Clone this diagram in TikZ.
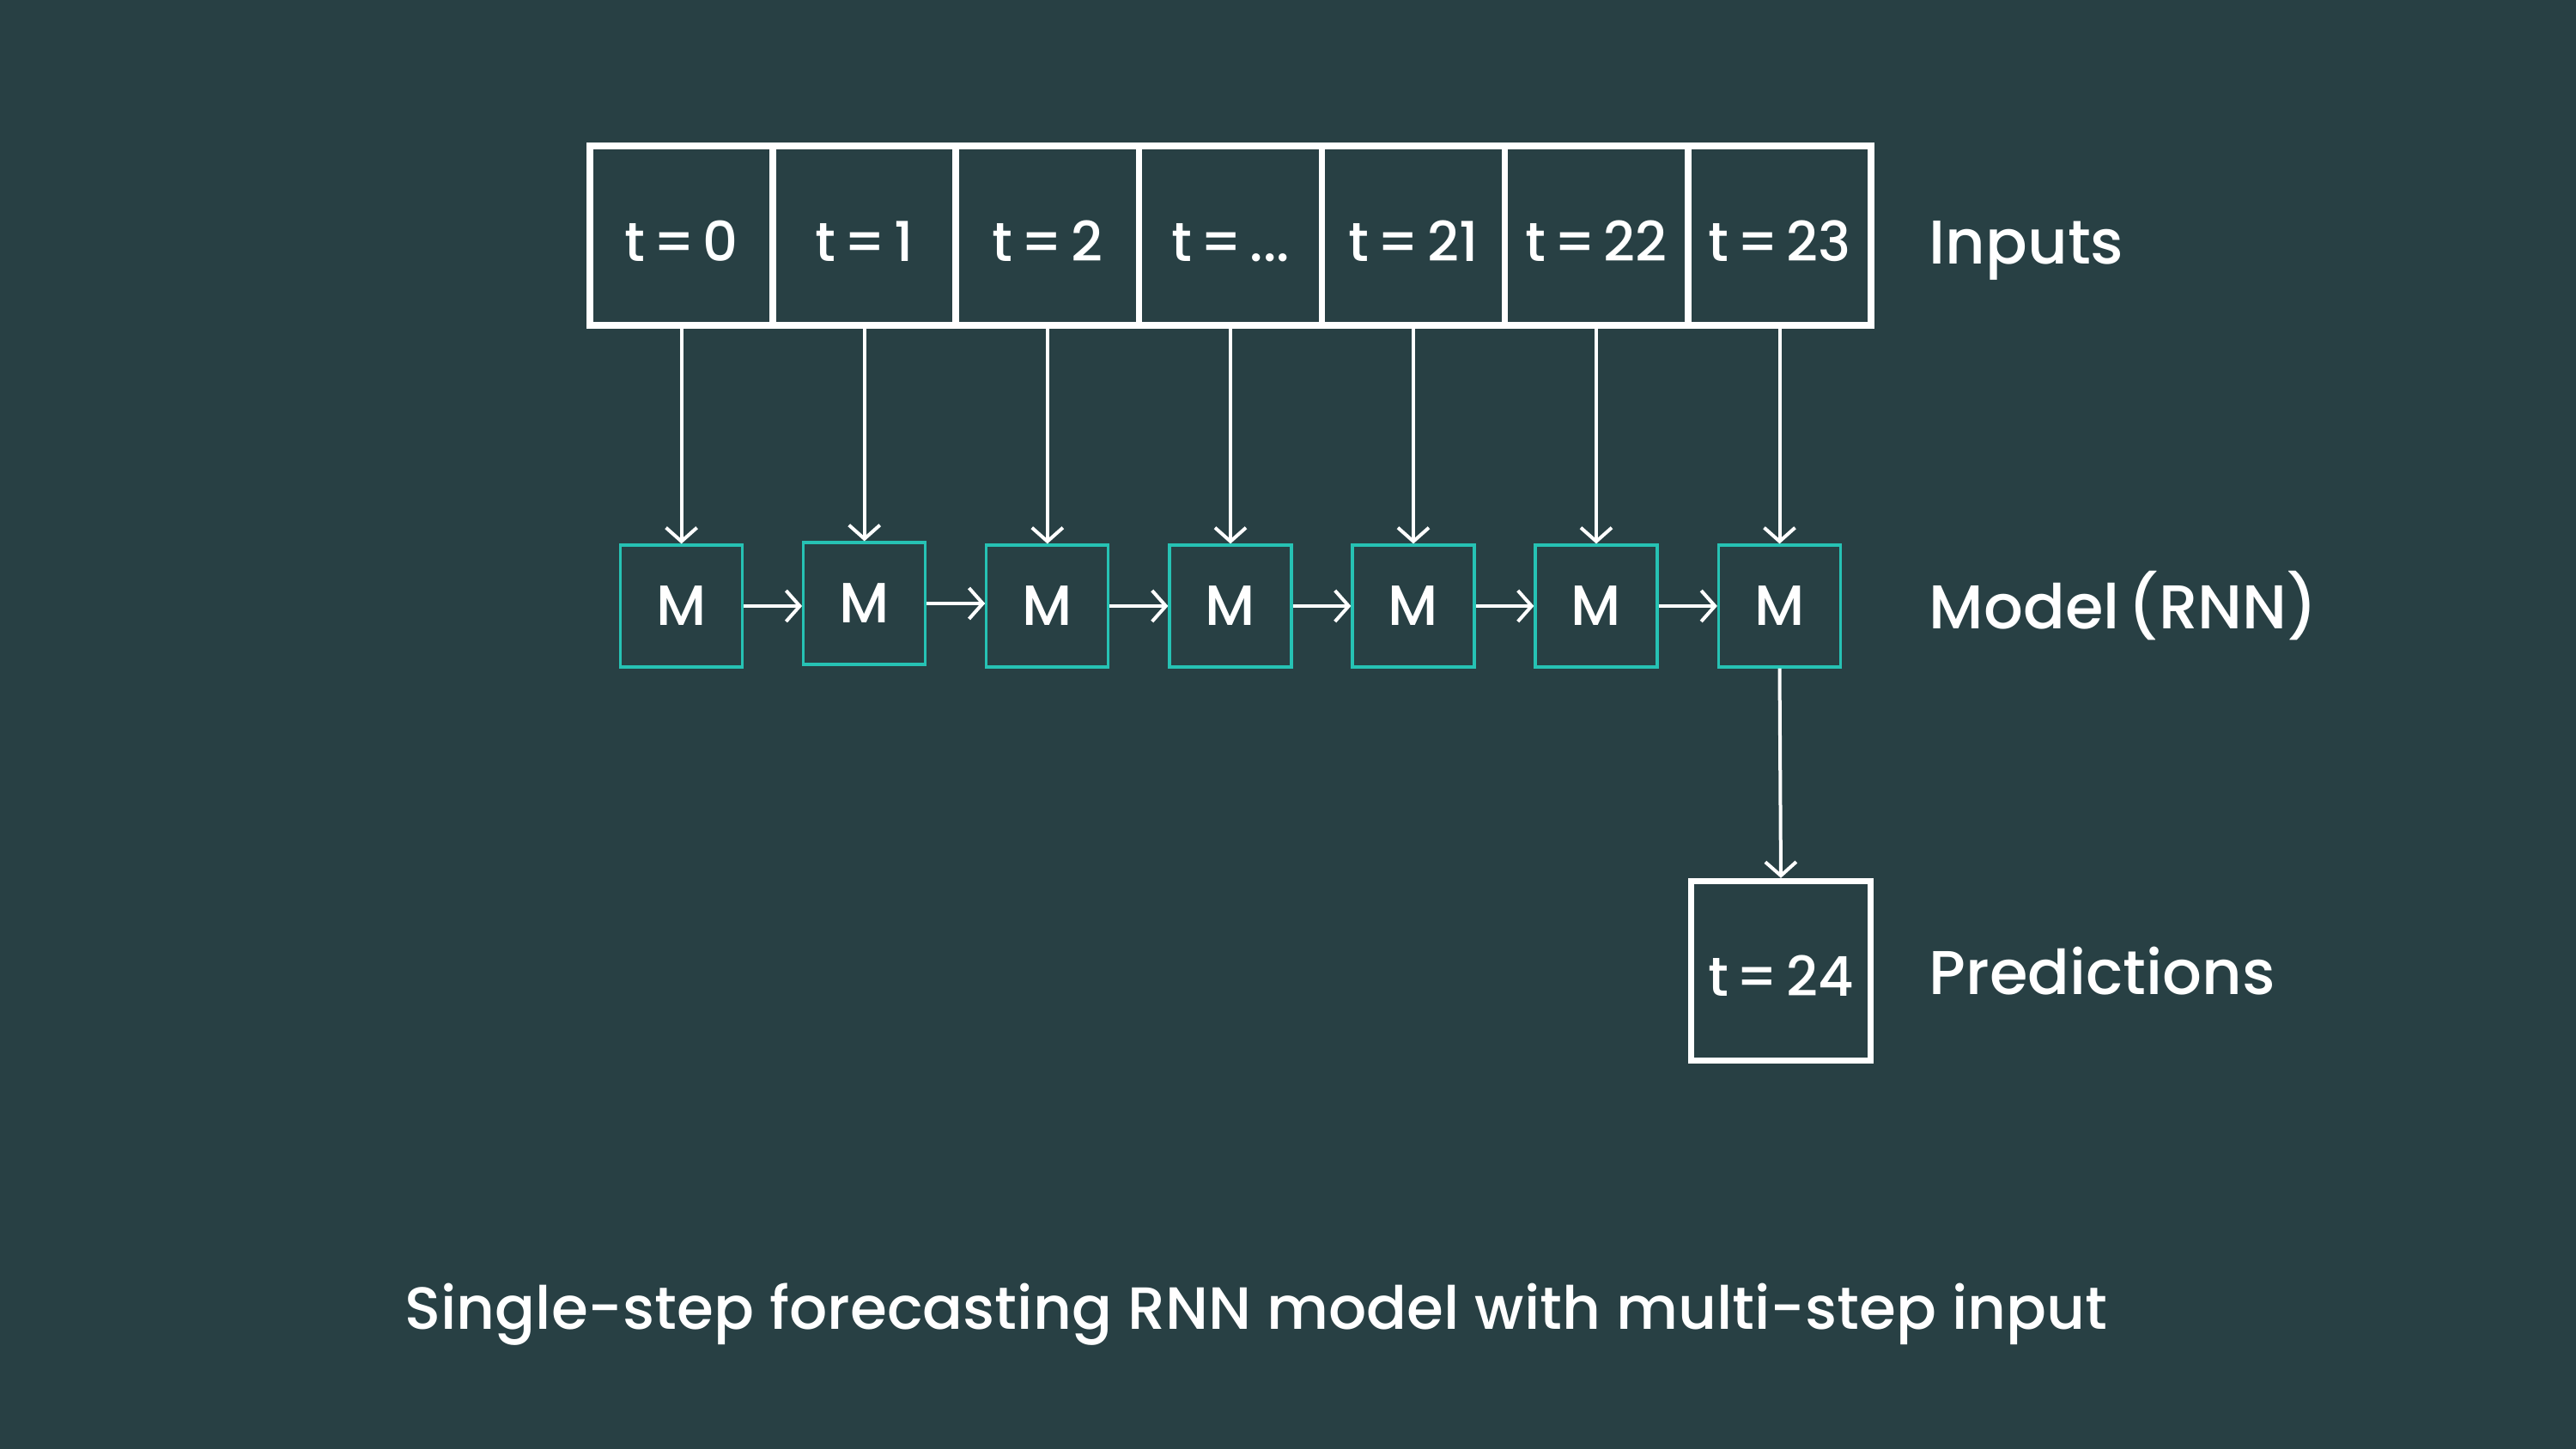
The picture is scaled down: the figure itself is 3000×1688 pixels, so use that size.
\documentclass[tikz,border=0pt]{standalone}
\usepackage{fontspec}
\setmainfont{Poppins}[UprightFont={* Medium}]
\newfontfamily\tightfont{Poppins}[UprightFont={* Medium},WordSpace=0.55]
\usetikzlibrary{arrows.meta}
\definecolor{bg}{HTML}{284044}
\definecolor{teal}{HTML}{26C2B4}
\begin{document}
\begin{tikzpicture}[x=0.25pt,y=-0.25pt,
  cell/.style={draw=white,line width=1.9pt,minimum width=53.3pt,minimum height=52.2pt,inner sep=0pt,text=white,text height=15pt,text depth=0pt,font=\tightfont\fontsize{16}{20}\selectfont},
  mbox/.style={draw=teal,line width=0.8pt,minimum width=35.5pt,minimum height=35.5pt,inner sep=0pt,text=white,font=\fontsize{16.5}{20}\selectfont},
  arr/.style={draw=white,line width=1pt,-{Straight Barb[length=4pt,width=9pt,line width=1pt]}},
  lbl/.style={anchor=base west,text=white,inner sep=0pt,font=\tightfont\fontsize{18}{22}\selectfont},
]
\fill[bg] (0,0) rectangle (3000,1688);
\useasboundingbox (0,0) rectangle (3000,1688);
\node[cell] (i0) at (793.6,274.5) {t = 0};
\node[cell] (i1) at (1006.7,274.5) {t = 1};
\node[cell] (i2) at (1219.8,274.5) {t = 2};
\node[cell] (i3) at (1433,274.5) {t = ...};
\node[cell] (i4) at (1646,274.5) {t = 21};
\node[cell] (i5) at (1859,274.5) {t = 22};
\node[cell] (i6) at (2072.5,274.5) {t = 23};
\node[mbox] (m0) at (793.6,706) {M};
\node[mbox] (m1) at (1006.7,703) {M};
\node[mbox] (m2) at (1219.8,706) {M};
\node[mbox] (m3) at (1433,706) {M};
\node[mbox] (m4) at (1646,706) {M};
\node[mbox] (m5) at (1859,706) {M};
\node[mbox] (m6) at (2072.5,706) {M};
\node[cell,minimum width=52.2pt] (p) at (2074,1131) {t = 24};
\foreach \i in {0,...,6} { \draw[arr] (i\i.south) -- (m\i.north); }
\draw[arr] (m0.east) -- (m1.west|-m0.east);
\draw[arr] (m1.east) -- (m2.west|-m1.east);
\draw[arr] (m2.east) -- (m3.west);
\draw[arr] (m3.east) -- (m4.west);
\draw[arr] (m4.east) -- (m5.west);
\draw[arr] (m5.east) -- (m6.west);
\draw[arr] (m6.south) -- (p.north);
\node[lbl] (linputs) at (2246,308) {Inputs};
\node[lbl] (lmodel) at (2246,733) {Model (RNN)};
\node[lbl] (lpred) at (2246,1159) {Predictions};
\node[anchor=base,text=white,inner sep=0pt,font=\fontsize{17.35}{22}\selectfont] (cap) at (1463,1548) {Single-step forecasting RNN model with multi-step input};
\end{tikzpicture}
\end{document}
